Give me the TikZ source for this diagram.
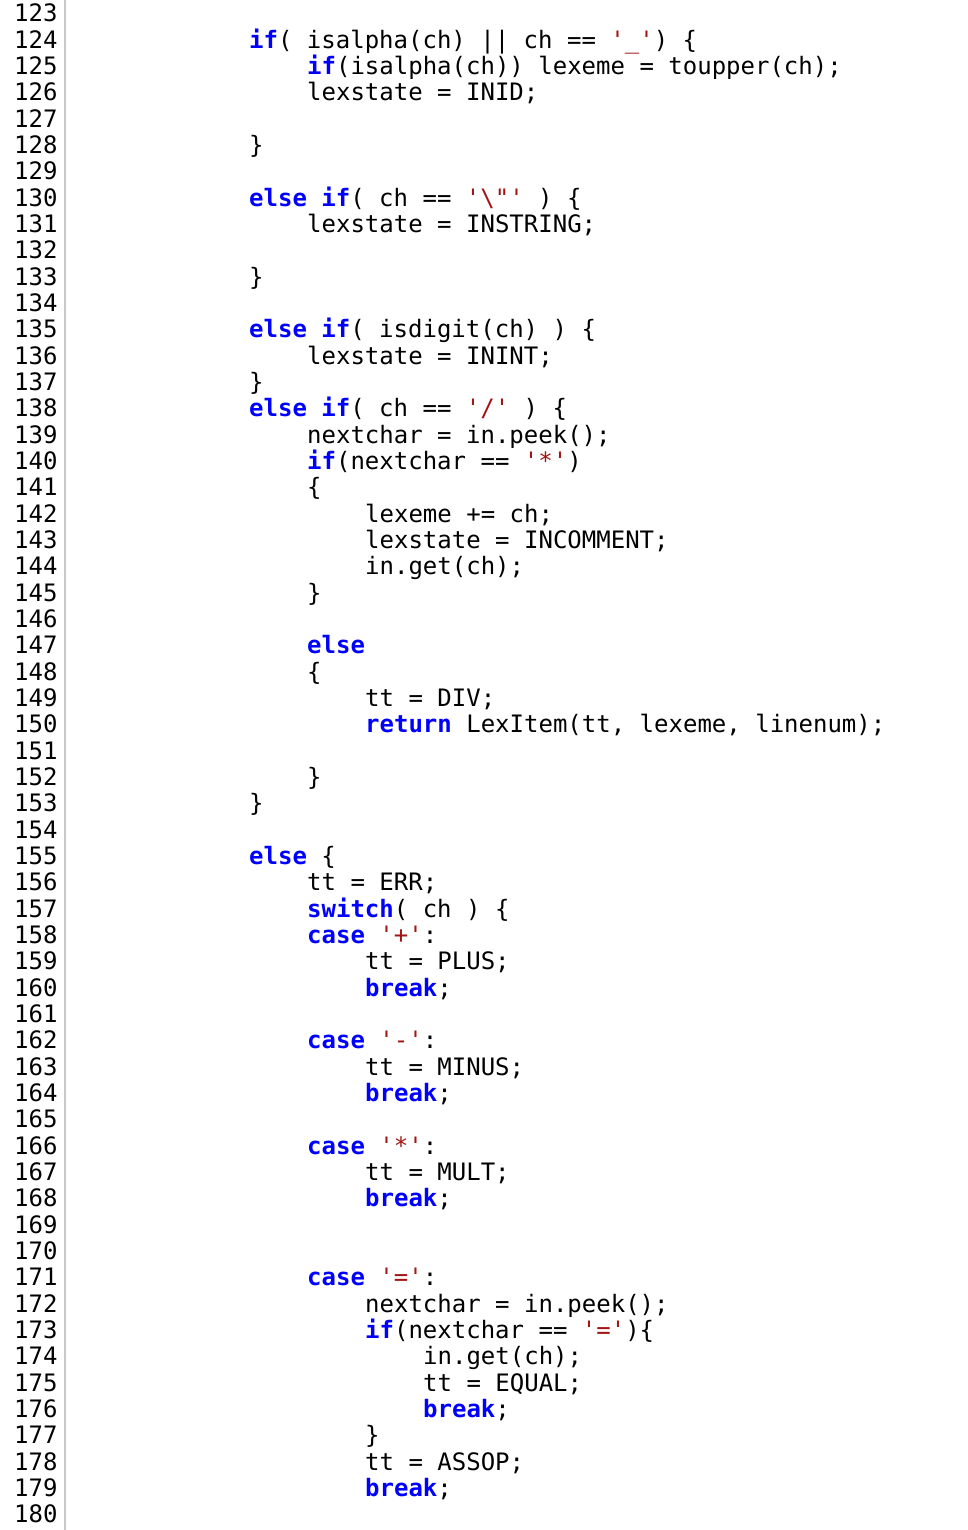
\documentclass[tikz,border=0pt]{standalone}
\usepackage{fontspec}
\setmonofont{DejaVu Sans Mono}
\definecolor{kwblue}{RGB}{0,0,255}
\definecolor{strred}{RGB}{163,21,21}
\definecolor{gutline}{RGB}{200,200,200}
\newcommand{\kw}[1]{\textcolor{kwblue}{\bfseries #1}}
\newcommand{\st}[1]{\textcolor{strred}{#1}}
\newcommand{\CL}[3]{%
  \node[codetxt] (n#1) at (14,{22+(#1-123)*26.33}) {#1};
  \node[codetxt] (c#1) at ({133+#2*14.5},{22+(#1-123)*26.33}) {#3};}
\newcommand{\NL}[1]{\node[codetxt] (n#1) at (14,{22+(#1-123)*26.33}) {#1};}
\begin{document}
\begin{tikzpicture}[x=1pt,y=-1pt,
  codetxt/.style={anchor=base west,inner sep=0pt,font=\ttfamily\fontsize{24}{26}\selectfont}]
\useasboundingbox (0,0) rectangle (967,1530);
\fill[white] (0,0) rectangle (967,1530);
\draw[gutline,line width=2pt] (65,0) -- (65,1530);
\NL{123}
\CL{124}{8}{\kw{if}( isalpha(ch) || ch == \st{'\_'}) \{}
\CL{125}{12}{\kw{if}(isalpha(ch)) lexeme = toupper(ch);}
\CL{126}{12}{lexstate = INID;}
\NL{127}
\CL{128}{8}{\}}
\NL{129}
\CL{130}{8}{\kw{else} \kw{if}( ch == \st{'\textbackslash"'} ) \{}
\CL{131}{12}{lexstate = INSTRING;}
\NL{132}
\CL{133}{8}{\}}
\NL{134}
\CL{135}{8}{\kw{else} \kw{if}( isdigit(ch) ) \{}
\CL{136}{12}{lexstate = ININT;}
\CL{137}{8}{\}}
\CL{138}{8}{\kw{else} \kw{if}( ch == \st{'/'} ) \{}
\CL{139}{12}{nextchar = in.peek();}
\CL{140}{12}{\kw{if}(nextchar == \st{'*'})}
\CL{141}{12}{\{}
\CL{142}{16}{lexeme += ch;}
\CL{143}{16}{lexstate = INCOMMENT;}
\CL{144}{16}{in.get(ch);}
\CL{145}{12}{\}}
\NL{146}
\CL{147}{12}{\kw{else}}
\CL{148}{12}{\{}
\CL{149}{16}{tt = DIV;}
\CL{150}{16}{\kw{return} LexItem(tt, lexeme, linenum);}
\NL{151}
\CL{152}{12}{\}}
\CL{153}{8}{\}}
\NL{154}
\CL{155}{8}{\kw{else} \{}
\CL{156}{12}{tt = ERR;}
\CL{157}{12}{\kw{switch}( ch ) \{}
\CL{158}{12}{\kw{case} \st{'+'}:}
\CL{159}{16}{tt = PLUS;}
\CL{160}{16}{\kw{break};}
\NL{161}
\CL{162}{12}{\kw{case} \st{'-'}:}
\CL{163}{16}{tt = MINUS;}
\CL{164}{16}{\kw{break};}
\NL{165}
\CL{166}{12}{\kw{case} \st{'*'}:}
\CL{167}{16}{tt = MULT;}
\CL{168}{16}{\kw{break};}
\NL{169}
\NL{170}
\CL{171}{12}{\kw{case} \st{'='}:}
\CL{172}{16}{nextchar = in.peek();}
\CL{173}{16}{\kw{if}(nextchar == \st{'='})\{}
\CL{174}{20}{in.get(ch);}
\CL{175}{20}{tt = EQUAL;}
\CL{176}{20}{\kw{break};}
\CL{177}{16}{\}}
\CL{178}{16}{tt = ASSOP;}
\CL{179}{16}{\kw{break};}
\NL{180}
\end{tikzpicture}
\end{document}
